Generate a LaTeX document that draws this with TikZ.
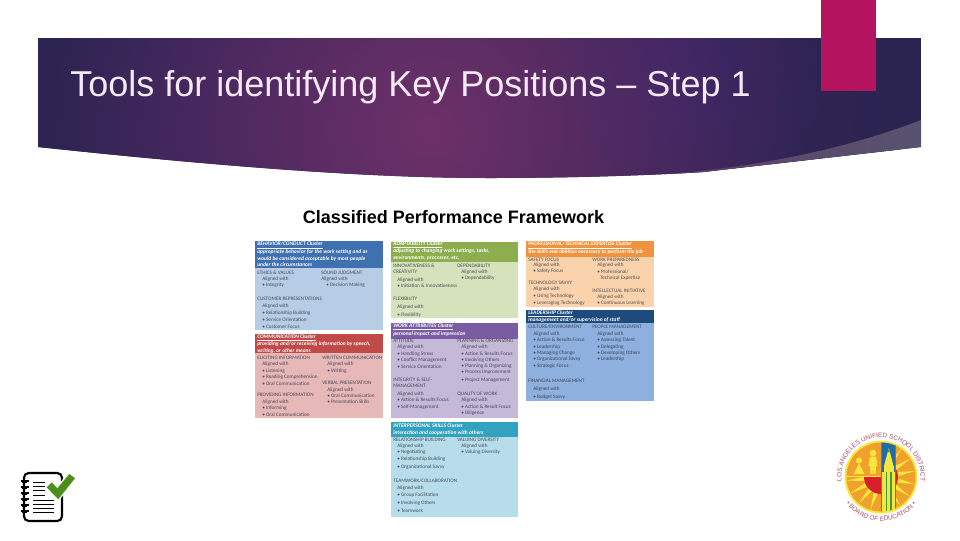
\documentclass[tikz,border=0pt]{standalone}
\usepackage{fontspec}
\setmainfont{Liberation Sans}
\newfontfamily\cardfont{Carlito}
\usetikzlibrary{decorations.text}
\definecolor{bandark}{HTML}{2A2350}
\definecolor{banmid}{HTML}{47285E}
\definecolor{banlow}{HTML}{2E2452}
\definecolor{banglow}{HTML}{6D3068}
\definecolor{banviolet}{HTML}{4D2F7A}
\definecolor{wedgeleft}{HTML}{5F4068}
\definecolor{wedgeright}{HTML}{575270}
\definecolor{titlecol}{HTML}{F6E9F6}
\definecolor{pinkbar}{HTML}{B3135F}
\definecolor{bodytext}{HTML}{2A2A3A}
\definecolor{logoring}{HTML}{A84A6A}
\definecolor{logoorange}{HTML}{F0A02C}
\definecolor{logoyellow}{HTML}{F8E63C}
\definecolor{logored}{HTML}{D8202C}
\definecolor{logoblue}{HTML}{1F6CA8}
\definecolor{logogreen}{HTML}{3E9A4A}
\definecolor{checkgreen}{HTML}{4E8F1A}
\pgfdeclareradialshading{bannerglow}{\pgfpoint{0bp}{0bp}}{color(0bp)=(banglow); color(12.5bp)=(banmid); color(20bp)=(banlow); color(25bp)=(bandark); color(50bp)=(bandark)}
\newcounter{tlc}
\newcommand{\tl}[3]{\stepcounter{tlc}\node[bodyline] (t\arabic{tlc}) at (#1,#2) {#3};}
\newcommand{\hl}[3]{\stepcounter{tlc}\node[headline] (t\arabic{tlc}) at (#1,#2) {#3};}
\newcommand{\logofont}{\fontsize{4.8}{6}\selectfont}
\tikzset{
  bodyline/.style={anchor=west,inner sep=0pt,text=bodytext,text opacity=.8,font=\cardfont\fontsize{3.9}{4.5}\selectfont},
  headline/.style={anchor=west,inner sep=0pt,text=white,font=\cardfont\fontsize{4.1}{4.5}\selectfont\bfseries\itshape},
  iconline/.style={line width=.75pt,black}
}
\definecolor{hblue}{HTML}{3F70B0}\definecolor{bblue}{HTML}{B7CDE6}
\definecolor{hred}{HTML}{C04A48}\definecolor{bred}{HTML}{E6B8B8}
\definecolor{hgreen}{HTML}{8CAE4E}\definecolor{bgreen}{HTML}{D5E2BC}
\definecolor{hpurple}{HTML}{7A5CA3}\definecolor{bpurple}{HTML}{C5B9D8}
\definecolor{horange}{HTML}{F0933E}\definecolor{borange}{HTML}{FAD3AD}
\definecolor{hnavy}{HTML}{1F4A7D}\definecolor{bnavy}{HTML}{8DB0DE}
\definecolor{hteal}{HTML}{32A3BF}\definecolor{bteal}{HTML}{B6DDE9}
\begin{document}
\begin{tikzpicture}[x=0.75pt,y=-0.75pt]
\useasboundingbox (0,0) rectangle (960,540);
\fill[white] (0,0) rectangle (960,540);
% banner
\begin{scope}
\clip (38,38) -- (921,38) -- (921,147) -- (703,172) .. controls (640,176) and (560,178) .. (490,178) .. controls (420,178) and (300,175) .. (38,147) -- cycle;
\fill[bandark] (38,38) rectangle (921,180);
\shade[shading=bannerglow] (430,130) circle[radius=470];
\foreach \r in {15,30,...,135}{\fill[banviolet,opacity=.05] (695,55) circle[radius=\r];}
\shade[left color=wedgeleft,right color=wedgeright] (640,176) .. controls (740,170) and (835,153) .. (921,120) -- (921,150) -- (640,180) -- cycle;
\end{scope}
\fill[pinkbar] (821,0) rectangle (876,91);
\node[anchor=west,inner sep=0pt,text=titlecol,font=\fontsize{27}{30}\selectfont] (title) at (70,87) {Tools for identifying Key Positions – Step 1};
\node[anchor=center,inner sep=0pt,font=\fontsize{13.5}{15}\selectfont\bfseries] (subtitle) at (453.5,217) {Classified Performance Framework};
% cards
\fill[bblue] (255,241) rectangle (383,330); \fill[hblue] (255,241) rectangle (383,268);
\fill[bred] (255,334) rectangle (383,418); \fill[hred] (255,334) rectangle (383,353);
\fill[bgreen] (391,242) rectangle (518,318); \fill[hgreen] (391,242) rectangle (518,262);
\fill[bpurple] (391,323) rectangle (518,418); \fill[hpurple] (391,323) rectangle (518,339);
\fill[borange] (526,241) rectangle (654,307); \fill[horange] (526,241) rectangle (654,257);
\fill[bnavy] (526,310) rectangle (654,401); \fill[hnavy] (526,310) rectangle (654,323);
\fill[bteal] (391,422) rectangle (518,517); \fill[hteal] (391,422) rectangle (518,437);
% behaviour
\hl{257}{245.5}{\underline{BEHAVIOR/CONDUCT Cluster}}
\hl{257}{252}{appropriate behavior for the work setting and as}
\hl{257}{259}{would be considered acceptable by most people}
\hl{257}{265}{under the circumstances}
\tl{257}{273}{ETHICS \& VALUES}\tl{262}{279}{Aligned with}\tl{262}{285}{• Integrity}
\tl{321}{273}{SOUND JUDGMENT}\tl{321}{279}{Aligned with}\tl{326}{285}{• Decision Making}
\tl{257}{299}{CUSTOMER REPRESENTATIONS}\tl{262}{306}{Aligned with}\tl{262}{313}{• Relationship Building}\tl{262}{320}{• Service Orientation}\tl{262}{327}{• Customer Focus}
% communication
\hl{257}{338}{\underline{COMMUNICATION Cluster}}
\hl{257}{344.5}{providing and/or receiving information by speech,}
\hl{257}{351}{writing, or other means}
\tl{257}{358}{ELICITING INFORMATION}\tl{262}{364}{Aligned with}\tl{262}{371}{• Listening}\tl{262}{377}{• Reading Comprehension}\tl{262}{384}{• Oral Communication}
\tl{257}{395}{PROVIDING INFORMATION}\tl{262}{402}{Aligned with}\tl{262}{408}{• Informing}\tl{262}{415}{• Oral Communication}
\tl{322}{358}{WRITTEN COMMUNICATION}\tl{327}{364}{Aligned with}\tl{327}{371}{• Writing}
\tl{322}{383}{VERBAL PRESENTATION}\tl{327}{390}{Aligned with}\tl{327}{396}{• Oral Communication}\tl{327}{402}{• Presentation Skills}
% adaptability
\hl{393}{245}{\underline{ADAPTABILITY Cluster}}
\hl{393}{251.5}{adjusting to changing work settings, tasks,}
\hl{393}{258.5}{environments, processes, etc.}
\tl{393}{265.5}{INNOVATIVENESS \&}\tl{393}{272}{CREATIVITY}\tl{397}{280}{Aligned with}\tl{397}{285.5}{• Initiation \& Innovativeness}
\tl{393}{299}{FLEXIBILITY}\tl{397}{307}{Aligned with}\tl{397}{315}{• Flexibility}
\tl{457}{265.5}{DEPENDABILITY}\tl{461}{272}{Aligned with}\tl{461}{278}{• Dependability}
% work attributes
\hl{393}{327}{\underline{WORK ATTRIBUTES Cluster}}
\hl{393}{334}{personal impact and impression}
\tl{393}{341}{ATTITUDE}\tl{397}{347}{Aligned with}\tl{397}{354}{• Handling Stress}\tl{397}{360}{• Conflict Management}\tl{397}{367}{• Service Orientation}
\tl{393}{380}{INTEGRITY \& SELF-}\tl{393}{386}{MANAGEMENT}\tl{397}{394}{Aligned with}\tl{397}{400}{• Action \& Results Focus}\tl{397}{407}{• Self-Management}
\tl{457}{341}{PLANNING \& ORGANIZING}\tl{461}{347}{Aligned with}\tl{461}{354}{• Action \& Results Focus}\tl{461}{360}{• Involving Others}\tl{461}{366.5}{• Planning \& Organizing}\tl{461}{372.5}{• Process Improvement}\tl{461}{380}{• Project Management}
\tl{457}{394}{QUALITY OF WORK}\tl{461}{400}{Aligned with}\tl{461}{407}{• Action \& Result Focus}\tl{461}{413}{• Diligence}
% professional
\hl{528}{245.5}{\underline{PROFESSIONAL/TECHNICAL EXPERTISE Cluster}}
\hl{528}{252}{the skills and abilities necessary to perform the job}
\tl{528}{259.5}{SAFETY FOCUS}\tl{533}{265.5}{Aligned with}\tl{533}{271.5}{• Safety Focus}
\tl{528}{283}{TECHNOLOGY SAVVY}\tl{533}{289}{Aligned with}\tl{533}{296}{• Using Technology}\tl{533}{303}{• Leveraging Technology}
\tl{592}{259.5}{WORK PREPAREDNESS}\tl{597}{265.5}{Aligned with}\tl{597}{272}{• Professional/}\tl{600}{278}{Technical Expertise}
\tl{592}{291}{INTELLECTUAL INITIATIVE}\tl{597}{297}{Aligned with}\tl{597}{303}{• Continuous Learning}
% leadership
\hl{528}{314}{\underline{LEADERSHIP Cluster}}
\hl{528}{320.5}{management and/or supervision of staff}
\tl{528}{327}{CULTURE/ENVIRONMENT}\tl{533}{334}{Aligned with}\tl{533}{340}{• Action \& Results Focus}\tl{533}{347}{• Leadership}\tl{533}{353}{• Managing Change}\tl{533}{359}{• Organizational Savvy}\tl{533}{366}{• Strategic Focus}
\tl{528}{381}{FINANCIAL MANAGEMENT}\tl{533}{389}{Aligned with}\tl{533}{397}{• Budget Savvy}
\tl{592}{327}{PEOPLE MANAGEMENT}\tl{597}{334}{Aligned with}\tl{597}{340}{• Assessing Talent}\tl{597}{347}{• Delegating}\tl{597}{353}{• Developing Others}\tl{597}{359}{• Leadership}
% interpersonal
\hl{393}{426}{INTERPERSONAL SKILLS Cluster}
\hl{393}{433}{interaction and cooperation with others}
\tl{393}{440}{RELATIONSHIP BUILDING}\tl{397}{446}{Aligned with}\tl{397}{452}{• Negotiating}\tl{397}{459}{• Relationship Building}\tl{397}{467}{• Organizational Savvy}
\tl{393}{481}{TEAMWORK/COLLABORATION}\tl{397}{488}{Aligned with}\tl{397}{495}{• Group Facilitation}\tl{397}{503}{• Involving Others}\tl{397}{511}{• Teamwork}
\tl{457}{440}{VALUING DIVERSITY}\tl{461}{446}{Aligned with}\tl{461}{452}{• Valuing Diversity}
% notebook icon
\draw[black,line width=1.6pt,rounded corners=3.5pt,fill=white] (24,473) rectangle (62,521);
\foreach \yy in {480,486,492,498,504,510}{
  \fill[black] (21,\yy) rectangle (29,\yy+2.2);
  \fill[black] (22,\yy+2.2) rectangle (27,\yy+3.4);}
\foreach \yy in {482,486,490,495}{\draw[iconline] (33,\yy) -- (45,\yy);}
\foreach \yy in {500,504,508,512}{\draw[iconline] (33,\yy) -- (54,\yy);}
\fill[white] (44.5,487.3) -- (51.7,480) -- (57.3,486) -- (69.3,471.5) -- (77,478) -- (58.3,501.5) -- cycle;
\fill[checkgreen] (46.7,487.3) -- (51.7,482.3) -- (57.3,488.3) -- (69.3,474) -- (75,478.3) -- (58.3,499.3) -- cycle;
% seal
\begin{scope}[shift={(881,477)},x=0.75pt,y=0.75pt]
\fill[logoyellow] (0,0) circle[radius=36.5];
\fill[logoorange] (0,0) circle[radius=34.5];
\begin{scope}
\clip (0,0) circle[radius=34.5];
\foreach \a in {-78,-56,...,78}{\fill[logoyellow] (\a-9:15) -- (\a:35) -- (\a+9:15) -- cycle;}
\foreach \a in {186,208,...,262}{\fill[logoyellow] (\a-9:15) -- (\a:35) -- (\a+9:15) -- cycle;}
\fill[logored] (0,0) -- (180:17) arc[start angle=180,end angle=270,radius=17] -- cycle;
\fill[logored] (0,-17) arc[start angle=-90,end angle=90,radius=17] -- cycle;
\fill[logoyellow] (-35,0) rectangle (0,.6);
\fill[logoblue] (0,36) rectangle (15,0);
\fill[logoyellow] (0,5) rectangle (15,-36);
\fill[logogreen] (0,36) rectangle (1.2,-36);
\fill[logogreen] (14,36) rectangle (15,-36);
\fill[logogreen] (5.2,10) rectangle (6.4,-36);
\fill[logogreen] (9.4,10) rectangle (10.6,-36);
\fill[logoyellow] (7.8,29) -- (12.5,11) -- (3,11) -- cycle;
\fill[logogreen] (7.8,29) -- (8.9,25) -- (6.7,25) -- cycle;
\fill[logoyellow] (3,11) rectangle (12.5,5);
\fill[logoyellow] (-22,16.5) circle[radius=3];
\fill[logoyellow] (-22,13.5) -- (-16.5,3) -- (-27.5,3) -- cycle;
\fill[logoyellow] (-8,24) circle[radius=3.4];
\fill[logoyellow] (-11,20.5) -- (-5,20.5) -- (-3.5,11) -- (-5,11) -- (-5.5,3) -- (-7.5,3) -- (-8,10) -- (-8.5,3) -- (-10.5,3) -- (-11,11) -- (-12.5,11) -- cycle;
\end{scope}
\path[decorate,decoration={text along path,text={|\logofont|LOS ANGELES UNIFIED SCHOOL DISTRICT},text color=logoring,text align=center}] (212:39.5) arc[start angle=212,end angle=-32,radius=39.5];
\path[decorate,decoration={text along path,text={|\logofont|• BOARD OF EDUCATION •},text color=logoring,text align=center}] (212:44) arc[start angle=212,end angle=328,radius=44];
\end{scope}
\end{tikzpicture}
\end{document}
